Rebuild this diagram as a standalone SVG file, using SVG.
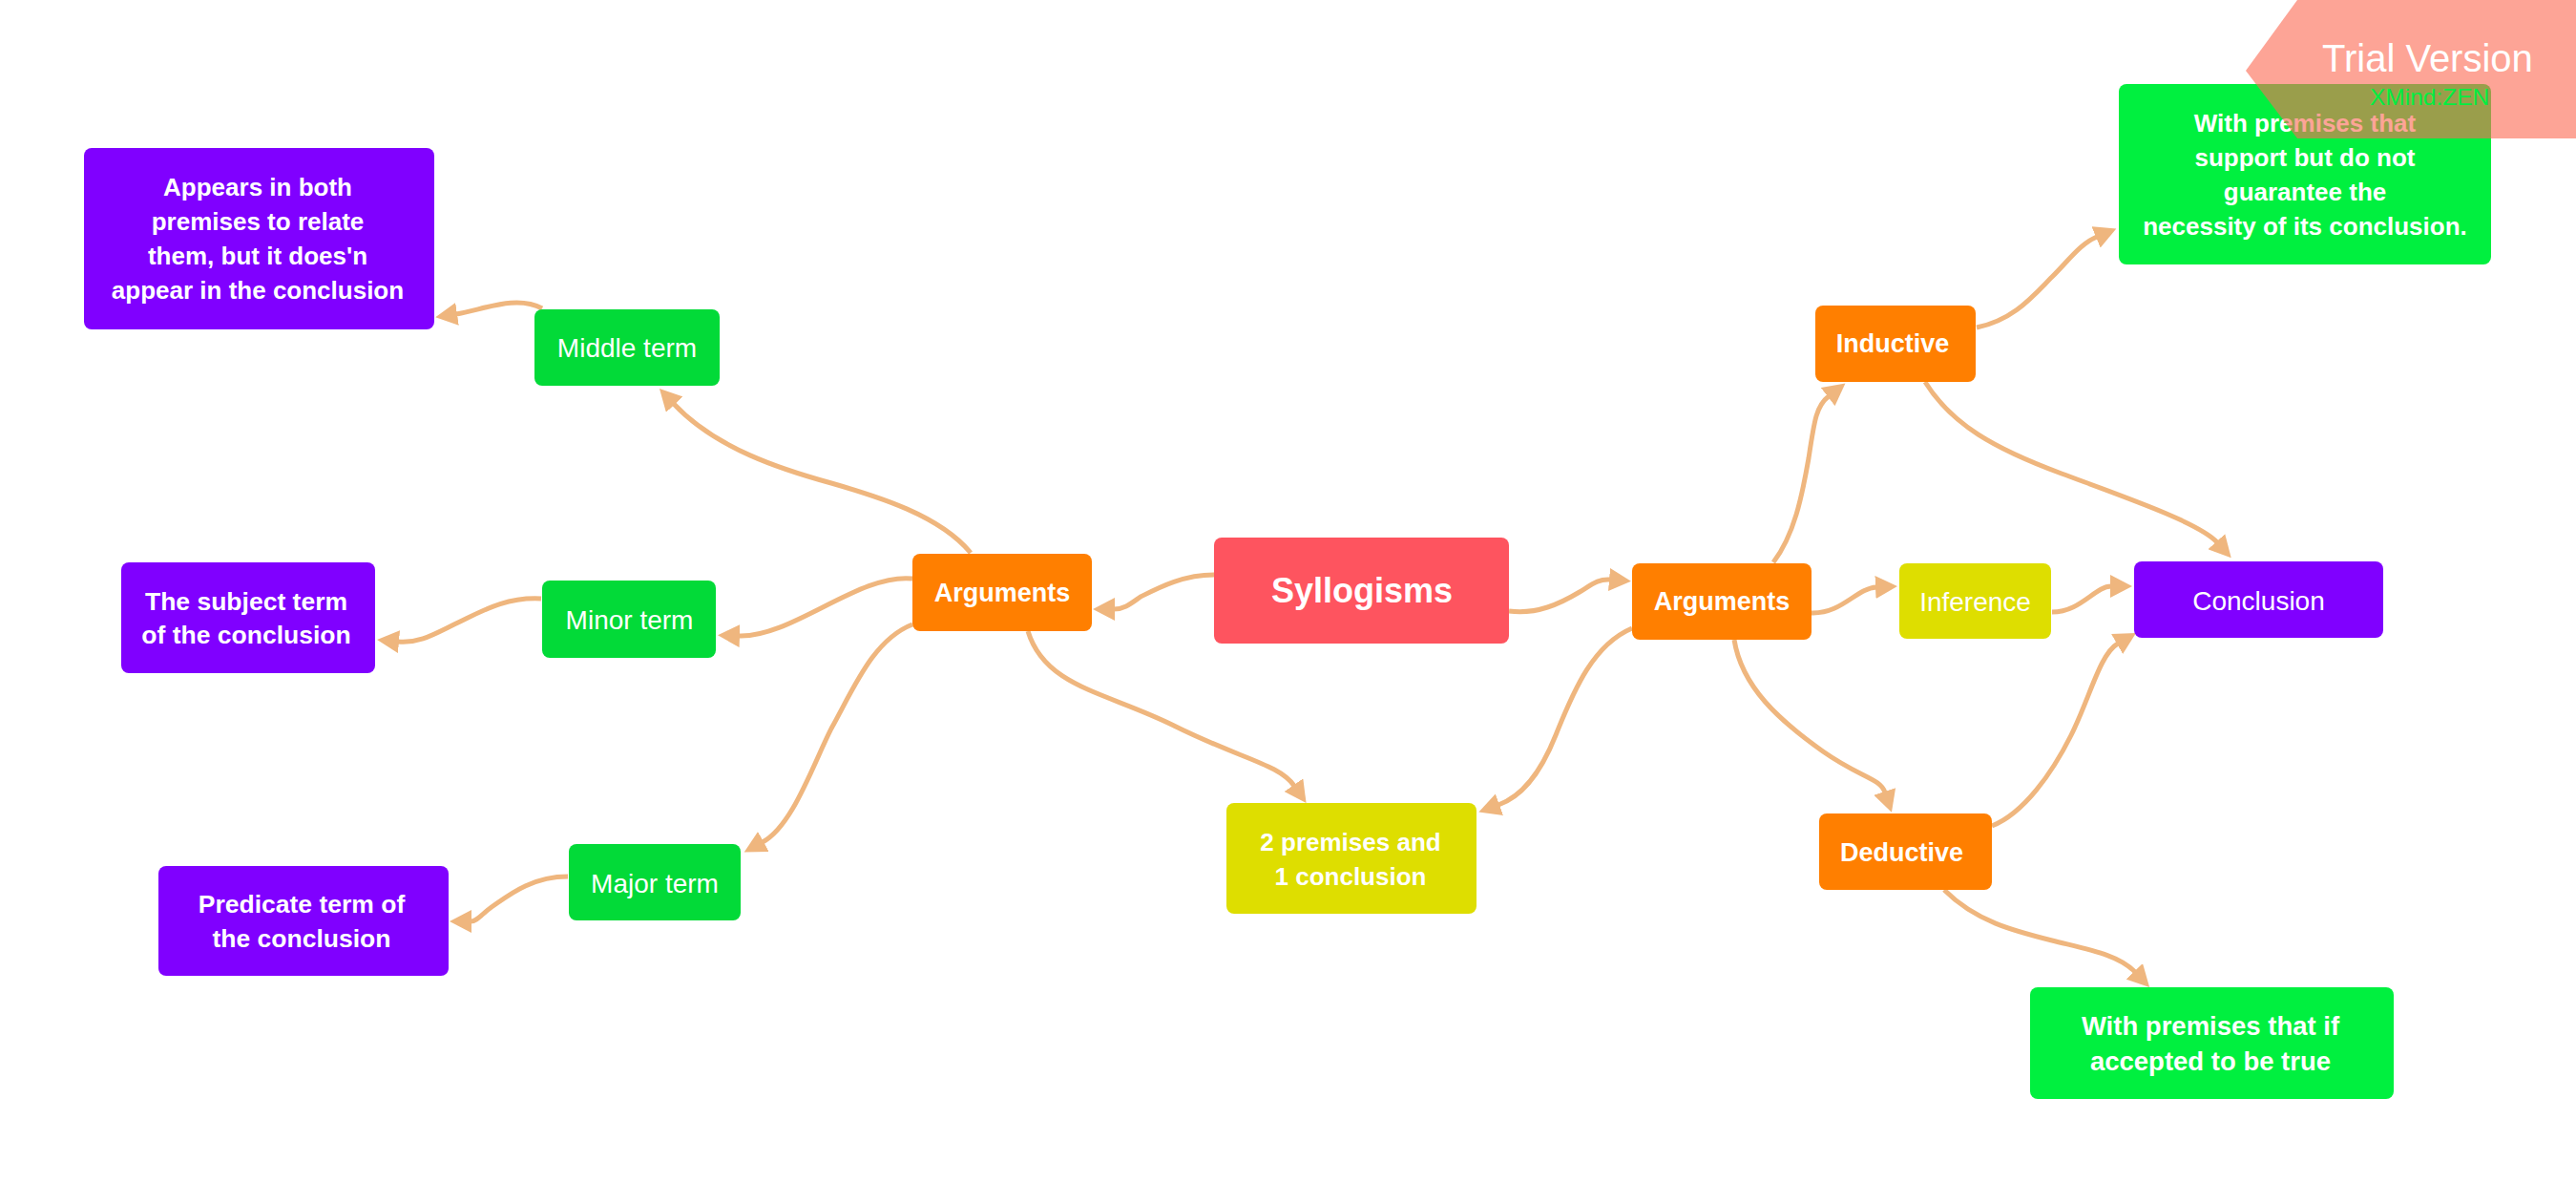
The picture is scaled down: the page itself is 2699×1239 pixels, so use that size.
<svg xmlns="http://www.w3.org/2000/svg" width="2699" height="1239" viewBox="0 0 2699 1239">
<defs>
<style>
.box{stroke:none}
.t{fill:#FFFFFF;font-family:"Liberation Sans",Arial,sans-serif;text-anchor:middle}
.b{font-weight:700}
.r{font-weight:400}
.syl{fill:#FE545F}
.org{fill:#FF7F00}
.tg{fill:#02DA38}
.bg{fill:#00F03F}
.pur{fill:#8000FF}
.yel{fill:#DEDE00}
.c{fill:none;stroke:#EFB67E;stroke-width:5;marker-end:url(#ah)}
</style>
<marker id="ah" markerUnits="userSpaceOnUse" markerWidth="24" markerHeight="24" refX="1" refY="12" orient="auto" viewBox="0 0 24 24">
<path d="M0,0 L23,12 L0,24 z" fill="#EFB67E"/>
</marker>
</defs>
<rect width="2699" height="1239" fill="#FFFFFF"/>

<g id="connectors">
<path class="c" d="M1272,602 C1240,602 1215,615 1195,625 C1185,632 1178,638 1167,638"/>
<path class="c" d="M1581,640 C1610,644 1635,632 1655,620 C1668,612 1675,606 1687,607"/>
<path class="c" d="M1017,579 C985,540 920,520 871,506 C820,492 750,470 706,423"/>
<path class="c" d="M956,606 C900,600 830,668 774,666"/>
<path class="c" d="M567,627 C530,625 505,640 480,652 C455,664 440,674 417,672"/>
<path class="c" d="M956,654 C915,670 895,720 871,763 C850,805 830,865 799,882"/>
<path class="c" d="M595,918 C555,918 530,940 515,950 C505,957 500,965 493,965"/>
<path class="c" d="M568,323 C540,308 505,325 478,329"/>
<path class="c" d="M1077,661 C1095,720 1160,725 1230,760 C1300,795 1340,800 1356,823"/>
<path class="c" d="M1710,658 C1670,675 1650,720 1630,770 C1612,815 1592,835 1570,843"/>
<path class="c" d="M1858,589 C1880,560 1888,520 1895,480 C1901,440 1903,425 1916,415"/>
<path class="c" d="M1898,642 C1930,643 1945,616 1966,615"/>
<path class="c" d="M2150,641 C2180,641 2195,614 2212,614"/>
<path class="c" d="M2017,400 C2045,445 2090,470 2160,496 C2230,522 2305,548 2323,568"/>
<path class="c" d="M2071,343 C2110,335 2130,310 2150,290 C2168,272 2180,255 2197,248"/>
<path class="c" d="M1817,670 C1825,720 1865,755 1910,787 C1950,815 1970,815 1975,830"/>
<path class="c" d="M2087,865 C2120,852 2150,810 2170,770 C2190,730 2200,685 2219,674"/>
<path class="c" d="M2037,932 C2070,965 2110,975 2150,985 C2190,995 2220,1000 2237,1018"/>
</g>

<g id="syllogisms">
<rect class="box syl" x="1272" y="563" width="309" height="111" rx="8"/>
<text class="t b" x="1427" y="631" font-size="36">Syllogisms</text>
</g>
<g id="arguments-left">
<rect class="box org" x="956" y="580" width="188" height="81" rx="8"/>
<text class="t b" x="1050" y="629.5" font-size="27">Arguments</text>
</g>
<g id="arguments-right">
<rect class="box org" x="1710" y="590" width="188" height="80" rx="8"/>
<text class="t b" x="1804" y="639" font-size="27">Arguments</text>
</g>
<g id="middle-term">
<rect class="box tg" x="560" y="324" width="194" height="80" rx="8"/>
<text class="t r" x="657" y="374" font-size="28">Middle term</text>
</g>
<g id="minor-term">
<rect class="box tg" x="568" y="608" width="182" height="81" rx="8"/>
<text class="t r" x="659.5" y="658.5" font-size="28">Minor term</text>
</g>
<g id="major-term">
<rect class="box tg" x="596" y="884" width="180" height="80" rx="8"/>
<text class="t r" x="686" y="934.5" font-size="28">Major term</text>
</g>
<g id="middle-desc">
<rect class="box pur" x="88" y="155" width="367" height="190" rx="8"/>
<text class="t b" x="270" y="205" font-size="26">Appears in both</text>
<text class="t b" x="270" y="241" font-size="26">premises to relate</text>
<text class="t b" x="270" y="277" font-size="26">them, but it does'n</text>
<text class="t b" x="270" y="313" font-size="26">appear in the conclusion</text>
</g>
<g id="minor-desc">
<rect class="box pur" x="127" y="589" width="266" height="116" rx="8"/>
<text class="t b" x="258" y="639" font-size="26.5">The subject term</text>
<text class="t b" x="258" y="674" font-size="26.5">of the conclusion</text>
</g>
<g id="major-desc">
<rect class="box pur" x="166" y="907" width="304" height="115" rx="8"/>
<text class="t b" x="316" y="956" font-size="26.5">Predicate term of</text>
<text class="t b" x="316" y="992" font-size="26.5">the conclusion</text>
</g>
<g id="premises">
<rect class="box yel" x="1285" y="841" width="262" height="116" rx="8"/>
<text class="t b" x="1415" y="890.5" font-size="26">2 premises and</text>
<text class="t b" x="1415" y="927" font-size="26">1 conclusion</text>
</g>
<g id="inductive">
<rect class="box org" x="1902" y="320" width="168" height="80" rx="8"/>
<text class="t b" x="1983" y="369" font-size="27">Inductive</text>
</g>
<g id="inductive-desc">
<rect class="box bg" x="2220" y="88" width="390" height="189" rx="8"/>
<text class="t b" x="2415" y="138" font-size="26">With premises that</text>
<text class="t b" x="2415" y="174" font-size="26">support but do not</text>
<text class="t b" x="2415" y="210" font-size="26">guarantee the</text>
<text class="t b" x="2415" y="246" font-size="26">necessity of its conclusion.</text>
</g>
<g id="inference">
<rect class="box yel" x="1990" y="590" width="159" height="79" rx="8"/>
<text class="t r" x="2069.5" y="639.5" font-size="28">Inference</text>
</g>
<g id="conclusion">
<rect class="box pur" x="2236" y="588" width="261" height="80" rx="8"/>
<text class="t r" x="2366.5" y="639" font-size="28">Conclusion</text>
</g>
<g id="deductive">
<rect class="box org" x="1906" y="852" width="181" height="80" rx="8"/>
<text class="t b" x="1992.5" y="901.5" font-size="27">Deductive</text>
</g>
<g id="deductive-desc">
<rect class="box bg" x="2127" y="1034" width="381" height="117" rx="8"/>
<text class="t b" x="2316" y="1084" font-size="27.5">With premises that if</text>
<text class="t b" x="2316" y="1120.5" font-size="27.5">accepted to be true</text>
</g>

<g id="watermark">
<polygon points="2407,0 2353,74 2407,145 2699,145 2699,0" fill="#FC6B53" fill-opacity="0.61"/>
<text x="2433" y="75" font-family="'Liberation Sans',Arial,sans-serif" font-size="40" fill="#FFFFFF">Trial Version</text>
<text x="2483" y="110" font-family="'Liberation Sans',Arial,sans-serif" font-size="24.5" fill="#00EE40">XMind:ZEN</text>
</g>
</svg>
